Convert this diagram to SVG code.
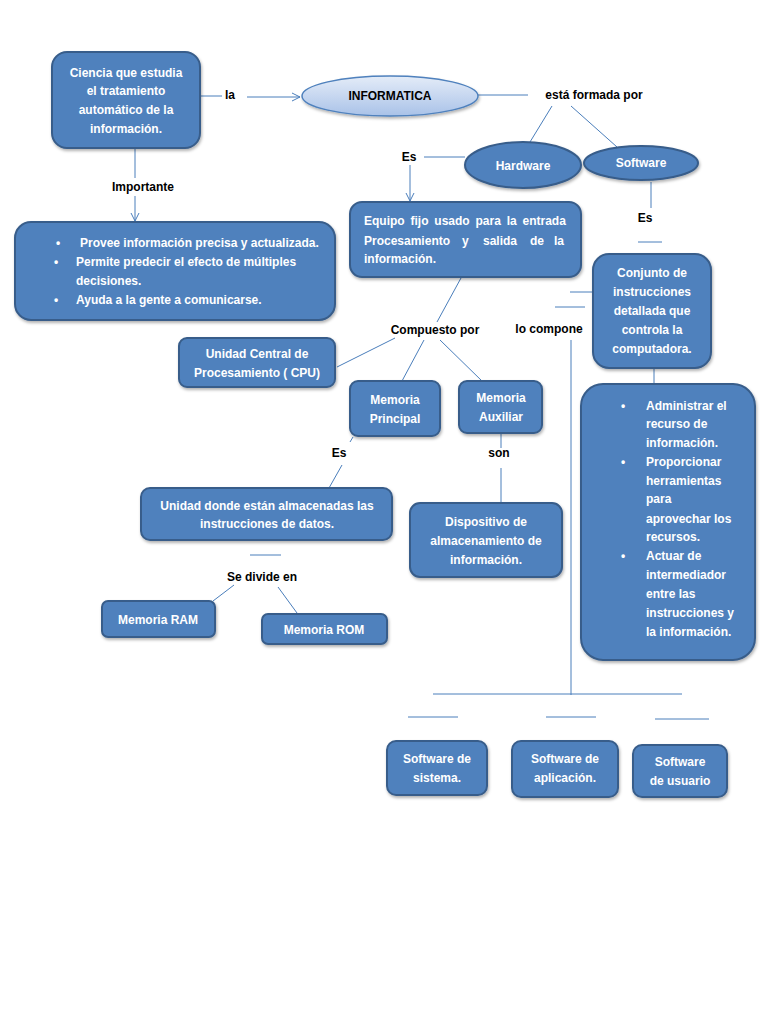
<svg xmlns="http://www.w3.org/2000/svg" width="768" height="1024" viewBox="0 0 768 1024">
<defs>
<linearGradient id="gInf" x1="0" y1="0" x2="0" y2="1">
<stop offset="0" stop-color="#e4ecf8"/>
<stop offset="1" stop-color="#a9c2e8"/>
</linearGradient>
<filter id="sh" x="-10%" y="-10%" width="125%" height="130%">
<feDropShadow dx="1" dy="2" stdDeviation="1.5" flood-color="#000" flood-opacity="0.3"/>
</filter>
<marker id="arr" viewBox="0 0 10 10" refX="9" refY="5" markerWidth="10" markerHeight="10" markerUnits="userSpaceOnUse" orient="auto">
<path d="M1,1 L9,5 L1,9" fill="none" stroke="#4a7ebb" stroke-width="1"/>
</marker>
</defs>
<style>
.box{fill:#4f81bd;stroke:#385d8a;stroke-width:2;filter:url(#sh)}
.nt{font-family:"Liberation Sans",Arial,sans-serif;font-weight:bold;font-size:12px;fill:#ffffff;text-anchor:middle}
.nl{font-family:"Liberation Sans",Arial,sans-serif;font-weight:bold;font-size:12px;fill:#ffffff}
.lb{font-family:"Liberation Sans",Arial,sans-serif;font-weight:bold;font-size:12px;fill:#000000}
.ln{stroke:#4a7ebb;stroke-width:1;fill:none}
</style>
<rect width="768" height="1024" fill="#ffffff"/>

<g id="connectors">
<line class="ln" x1="200" y1="96" x2="222" y2="96"/>
<line class="ln" x1="247" y1="97" x2="300" y2="97" marker-end="url(#arr)"/>
<line class="ln" x1="478" y1="95" x2="528" y2="95"/>
<line class="ln" x1="552" y1="106" x2="530" y2="142"/>
<line class="ln" x1="571" y1="106" x2="617" y2="147"/>
<line class="ln" x1="424" y1="157" x2="465" y2="157"/>
<line class="ln" x1="410" y1="165" x2="410" y2="201" marker-end="url(#arr)"/>
<line class="ln" x1="651" y1="182" x2="651" y2="208"/>
<line class="ln" x1="638" y1="242" x2="662" y2="242"/>
<line class="ln" x1="570" y1="292" x2="593" y2="292"/>
<line class="ln" x1="555" y1="307" x2="585" y2="307"/>
<line class="ln" x1="654" y1="368" x2="654" y2="384"/>
<line class="ln" x1="135" y1="148" x2="135" y2="178"/>
<line class="ln" x1="135" y1="196" x2="135" y2="221" marker-end="url(#arr)"/>
<line class="ln" x1="461" y1="278" x2="437" y2="322"/>
<line class="ln" x1="395" y1="338" x2="337" y2="367"/>
<line class="ln" x1="424" y1="340" x2="402" y2="381"/>
<line class="ln" x1="440" y1="340" x2="483" y2="382"/>
<line class="ln" x1="353" y1="437" x2="350" y2="442"/>
<line class="ln" x1="342" y1="465" x2="329" y2="488"/>
<line class="ln" x1="501" y1="433" x2="501" y2="448"/>
<line class="ln" x1="501" y1="468" x2="501" y2="503"/>
<line class="ln" x1="250" y1="555" x2="281" y2="555"/>
<line class="ln" x1="234" y1="585" x2="213" y2="601"/>
<line class="ln" x1="278" y1="587" x2="297" y2="613"/>
<line class="ln" x1="571" y1="340" x2="571" y2="695"/>
<line class="ln" x1="433" y1="694" x2="682" y2="694"/>
<line class="ln" x1="408" y1="717" x2="458" y2="717"/>
<line class="ln" x1="546" y1="717" x2="596" y2="717"/>
<line class="ln" x1="655" y1="719" x2="709" y2="719"/>
</g>

<g id="labels">
<text class="lb" x="230" y="99" text-anchor="middle">la</text>
<text class="lb" x="594" y="99" text-anchor="middle">está formada por</text>
<text class="lb" x="409" y="161" text-anchor="middle">Es</text>
<text class="lb" x="645" y="222" text-anchor="middle">Es</text>
<text class="lb" x="143" y="191" text-anchor="middle">Importante</text>
<text class="lb" x="435" y="334" text-anchor="middle">Compuesto por</text>
<text class="lb" x="549" y="333" text-anchor="middle">lo compone</text>
<text class="lb" x="339" y="457" text-anchor="middle">Es</text>
<text class="lb" x="499" y="457" text-anchor="middle">son</text>
<text class="lb" x="262" y="581" text-anchor="middle">Se divide en</text>
</g>

<g id="n-ciencia">
<rect class="box" x="52" y="52" width="148" height="96" rx="15"/>
<text class="nt" x="126" y="77">Ciencia que estudia</text>
<text class="nt" x="126" y="95">el tratamiento</text>
<text class="nt" x="126" y="114">automático de la</text>
<text class="nt" x="126" y="133">información.</text>
</g>

<g id="n-informatica">
<ellipse cx="390" cy="96" rx="88" ry="20" fill="url(#gInf)" stroke="#4f81bd" stroke-width="1.5" filter="url(#sh)"/>
<text class="lb" x="390" y="100" text-anchor="middle">INFORMATICA</text>
</g>

<g id="n-hardware">
<ellipse class="box" cx="523" cy="165" rx="58" ry="23"/>
<text class="nt" x="523" y="170">Hardware</text>
</g>

<g id="n-software">
<ellipse class="box" cx="641" cy="163" rx="57" ry="17"/>
<text class="nt" x="641" y="167">Software</text>
</g>

<g id="n-importante">
<rect class="box" x="15" y="222" width="320" height="98" rx="16"/>
<text class="nl" x="56" y="247">•</text>
<text class="nl" x="80" y="247">Provee información precisa y actualizada.</text>
<text class="nl" x="54" y="266">•</text>
<text class="nl" x="76" y="266">Permite predecir el efecto de múltiples</text>
<text class="nl" x="76" y="285">decisiones.</text>
<text class="nl" x="54" y="304">•</text>
<text class="nl" x="76" y="304">Ayuda a la gente a comunicarse.</text>
</g>

<g id="n-equipo">
<rect class="box" x="350" y="202" width="231" height="75" rx="12"/>
<text class="nl" x="364" y="225" word-spacing="2.5">Equipo fijo usado para la entrada</text>
<text class="nl" y="245"><tspan x="364">Procesamiento</tspan><tspan x="462">y</tspan><tspan x="483">salida</tspan><tspan x="530">de</tspan><tspan x="554">la</tspan></text>
<text class="nl" x="364" y="263">información.</text>
</g>

<g id="n-conjunto">
<rect class="box" x="593" y="254" width="118" height="114" rx="16"/>
<text class="nt" x="652" y="277">Conjunto de</text>
<text class="nt" x="652" y="296">instrucciones</text>
<text class="nt" x="652" y="315">detallada que</text>
<text class="nt" x="652" y="334">controla la</text>
<text class="nt" x="652" y="353">computadora.</text>
</g>

<g id="n-funciones">
<rect class="box" x="581" y="384" width="174" height="276" rx="22"/>
<text class="nl" x="621" y="410">•</text>
<text class="nl" x="646" y="410">Administrar el</text>
<text class="nl" x="646" y="428">recurso de</text>
<text class="nl" x="646" y="447">información.</text>
<text class="nl" x="621" y="466">•</text>
<text class="nl" x="646" y="466">Proporcionar</text>
<text class="nl" x="646" y="485">herramientas</text>
<text class="nl" x="646" y="503">para</text>
<text class="nl" x="646" y="523">aprovechar los</text>
<text class="nl" x="646" y="541">recursos.</text>
<text class="nl" x="621" y="560">•</text>
<text class="nl" x="646" y="560">Actuar de</text>
<text class="nl" x="646" y="579">intermediador</text>
<text class="nl" x="646" y="598">entre las</text>
<text class="nl" x="646" y="617">instrucciones y</text>
<text class="nl" x="646" y="636">la información.</text>
</g>

<g id="n-cpu">
<rect class="box" x="179" y="338" width="156" height="49" rx="8"/>
<text class="nt" x="257" y="358">Unidad Central de</text>
<text class="nt" x="257" y="377">Procesamiento ( CPU)</text>
</g>

<g id="n-principal">
<rect class="box" x="350" y="381" width="90" height="55" rx="8"/>
<text class="nt" x="395" y="404">Memoria</text>
<text class="nt" x="395" y="423">Principal</text>
</g>

<g id="n-auxiliar">
<rect class="box" x="459" y="381" width="83" height="52" rx="8"/>
<text class="nt" x="501" y="402">Memoria</text>
<text class="nt" x="501" y="421">Auxiliar</text>
</g>

<g id="n-unidad">
<rect class="box" x="141" y="488" width="251" height="52" rx="9"/>
<text class="nt" x="267" y="510">Unidad donde están almacenadas las</text>
<text class="nt" x="267" y="528">instrucciones de datos.</text>
</g>

<g id="n-dispositivo">
<rect class="box" x="410" y="503" width="152" height="74" rx="10"/>
<text class="nt" x="486" y="526">Dispositivo de</text>
<text class="nt" x="486" y="545">almacenamiento de</text>
<text class="nt" x="486" y="564">información.</text>
</g>

<g id="n-ram">
<rect class="box" x="102" y="601" width="113" height="36" rx="6"/>
<text class="nt" x="158" y="624">Memoria RAM</text>
</g>

<g id="n-rom">
<rect class="box" x="262" y="614" width="125" height="30" rx="6"/>
<text class="nt" x="324" y="634">Memoria ROM</text>
</g>

<g id="n-sistema">
<rect class="box" x="387" y="741" width="100" height="54" rx="9"/>
<text class="nt" x="437" y="763">Software de</text>
<text class="nt" x="437" y="782">sistema.</text>
</g>

<g id="n-aplicacion">
<rect class="box" x="512" y="741" width="106" height="56" rx="9"/>
<text class="nt" x="565" y="763">Software de</text>
<text class="nt" x="565" y="782">aplicación.</text>
</g>

<g id="n-usuario">
<rect class="box" x="633" y="745" width="94" height="52" rx="9"/>
<text class="nt" x="680" y="766">Software</text>
<text class="nt" x="680" y="785">de usuario</text>
</g>
</svg>
